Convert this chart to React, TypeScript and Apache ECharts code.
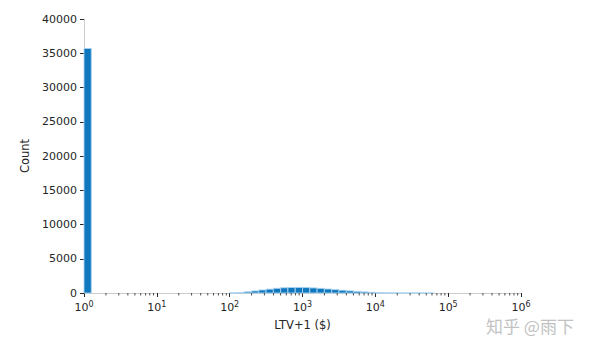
import React, { useEffect, useRef } from "react";
import * as echarts from "echarts";

// Histogram of log10(LTV+1), bins of 0.1 decade starting at 10^0
const BIN_WIDTH_LOG = 0.1;
const binCounts: number[] = [
  35700, 0, 0, 0, 0, 0, 0, 0, 0, 0,
  0, 0, 0, 0, 0, 0, 0, 0, 0, 0,
  15, 60, 170, 300, 440, 560, 680, 760, 800, 810,
  790, 740, 670, 580, 490, 400, 310, 230, 160, 100,
  50, 25, 10, 5, 3, 2, 1, 1, 0, 0,
];
const xTickExponents = [0, 1, 2, 3, 4, 5, 6];
const yTicks = [0, 5000, 10000, 15000, 20000, 25000, 30000, 35000, 40000];
const minorMultipliers = [2, 3, 4, 5, 6, 7, 8, 9];

export default function App() {
  const ref = useRef<HTMLDivElement>(null);
  useEffect(() => {
    if (!ref.current) return;
    const chart = echarts.init(ref.current, null, { renderer: "svg" });
    const histData = binCounts.map((c, k) => [
      Math.pow(10, k * BIN_WIDTH_LOG),
      Math.pow(10, (k + 1) * BIN_WIDTH_LOG),
      c,
    ]).filter((d) => d[2] > 0);
    const minorData: number[][] = [];
    for (let e = 0; e < 6; e++) {
      for (const m of minorMultipliers) minorData.push([m * Math.pow(10, e), 0]);
    }
    const font = "DejaVu Sans";
    chart.setOption({
      animation: false,
      grid: { left: 84, right: 79, top: 19, bottom: 51, containLabel: false },
      xAxis: {
        type: "log",
        logBase: 10,
        min: Math.pow(10, xTickExponents[0]),
        max: Math.pow(10, xTickExponents[xTickExponents.length - 1]),
        splitNumber: 6,
        name: "LTV+1 ($)",
        nameLocation: "middle",
        nameGap: 26,
        nameTextStyle: { fontFamily: font, fontSize: 11.5, color: "#262626" },
        axisLine: { show: true, lineStyle: { color: "#cccccc", width: 1 } },
        axisTick: { show: true, length: 4, lineStyle: { color: "#262626", width: 1 } },
        splitLine: { show: false },
        axisLabel: {
          fontFamily: font,
          fontSize: 11,
          color: "#262626",
          margin: 7,
          formatter: (v: number) => `10{sup|${Math.round(Math.log10(v))}}`,
          rich: {
            sup: { fontFamily: font, fontSize: 8, color: "#262626", verticalAlign: "top", padding: [0, 0, 7, 0] },
          },
        },
      },
      yAxis: {
        type: "value",
        min: yTicks[0],
        max: yTicks[yTicks.length - 1],
        interval: yTicks[1] - yTicks[0],
        name: "Count",
        nameLocation: "middle",
        nameGap: 38,
        nameTextStyle: { fontFamily: font, fontSize: 11.5, color: "#262626" },
        axisLine: { show: true, lineStyle: { color: "#cccccc", width: 1 } },
        axisTick: { show: true, length: 4, lineStyle: { color: "#262626", width: 1 } },
        splitLine: { show: false },
        axisLabel: {
          fontFamily: font,
          fontSize: 11,
          color: "#262626",
          margin: 7,
          formatter: (v: number) => String(v),
        },
      },
      series: [
        {
          type: "custom",
          clip: false,
          encode: { x: [0, 1], y: 2 },
          data: histData,
          renderItem: (params: any, api: any) => {
            const lo = api.value(0);
            const hi = api.value(1);
            const c = api.value(2);
            const p0 = api.coord([lo, 0]);
            const p1 = api.coord([hi, c]);
            return {
              type: "rect",
              shape: { x: p0[0], y: p1[1], width: p1[0] - p0[0], height: p0[1] - p1[1] },
              style: { fill: "#0f77bd", stroke: "#a8d2f0", lineWidth: 0.9 },
            };
          },
        },
        {
          type: "custom",
          clip: false,
          silent: true,
          encode: { x: 0, y: 1 },
          data: minorData,
          renderItem: (params: any, api: any) => {
            const p = api.coord([api.value(0), 0]);
            return {
              type: "line",
              shape: { x1: p[0], y1: p[1], x2: p[0], y2: p[1] + 2.5 },
              style: { stroke: "#262626", lineWidth: 0.8 },
            };
          },
        },
      ],
      graphic: [
        {
          type: "text",
          left: 486,
          top: 317,
          style: { text: "知乎 @雨下", fontFamily: "Noto Sans CJK SC", fontSize: 17, fill: "#c2c2c2" },
        },
      ],
    });
    return () => chart.dispose();
  }, []);
  return (
    <div
      ref={ref}
      style={{ position: "fixed", left: 0, top: 0, width: 600, height: 344, background: "#fff" }}
    />
  );
}
